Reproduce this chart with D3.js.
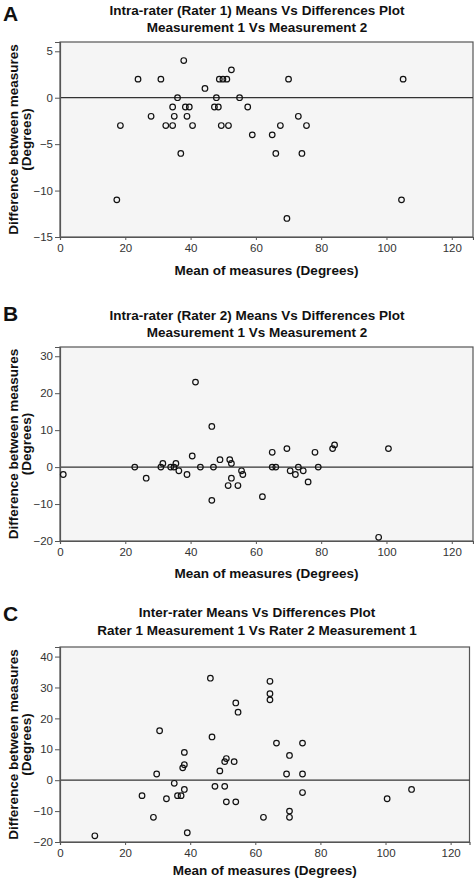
<!DOCTYPE html>
<html>
<head>
<meta charset="utf-8">
<script src="https://cdn.jsdelivr.net/npm/d3@7"></script>
<style>
  body { margin: 0; background: #fff; }
  svg { display: block; }
  text { font-family: "Liberation Sans", Arial, sans-serif; }
</style>
</head>
<body>
<svg id="chart" width="474" height="881"></svg>
<script>
// panel A: intra-rater, rater 1
var aMean = [37.9, 52.5, 23.9, 30.9, 48.8, 49.9, 51.1, 70, 105.1, 44.4, 36, 47.9, 55,
             34.5, 38.4, 39.6, 47.3, 48.5, 57.5, 27.9, 35, 38.9, 73, 18.5, 32.4, 34.5,
             40.6, 49.4, 51.6, 67.5, 75.5, 58.9, 65, 37, 66.1, 74.1, 17.4, 104.6, 69.5]
var aDiff = [4, 3, 2, 2, 2, 2, 2, 2, 2, 1, 0, 0, 0,
             -1, -1, -1, -1, -1, -1, -2, -2, -2, -2, -3, -3, -3,
             -3, -3, -3, -3, -3, -4, -4, -6, -6, -6, -11, -11, -13]

// panel B: intra-rater, rater 2
var bMean = [1, 22.9, 26.4, 30.9, 31.5, 33.9, 34.9, 35.5, 36.4, 38.9, 40.5, 41.5, 43,
             46.5, 47, 46.5, 49, 52, 52.5, 52.5, 51.5, 54.5, 55.6, 56, 62, 65, 65,
             66.1, 69.5, 70.5, 72.1, 73, 74.5, 76, 78.1, 79.1, 83.5, 84.1, 100.6, 97.6]
var bDiff = [-2, 0, -3, 0, 1, 0, 0, 1, -1, -2, 3, 23, 0,
             11, 0, -9, 2, 2, 1, -3, -5, -5, -1, -2, -8, 4, 0,
             0, 5, -1, -2, 0, -1, -4, 4, 0, 5, 6, 5, -19]

// panel C: inter-rater
var cMean = [46.2, 64.5, 64.5, 64.5, 54, 54.7, 30.6, 46.7, 66.5, 74.5, 38.2, 70.5, 51.1,
             50.6, 53.5, 38.2, 37.7, 49.1, 29.7, 69.6, 74.5, 35.1, 47.6, 50.6, 38.2,
             74.5, 25.2, 36.1, 37.2, 32.7, 51.1, 54, 70.5, 28.7, 62.5, 70.5, 39.1,
             10.7, 100.5, 108]
var cDiff = [33, 32, 28, 26, 25, 22, 16, 14, 12, 12, 9, 8, 7,
             6, 6, 5, 4, 3, 2, 2, 2, -1, -2, -2, -3,
             -4, -5, -5, -5, -6, -7, -7, -10, -12, -12, -12, -17,
             -18, -6, -3]

var xTicks = [0, 20, 40, 60, 80, 100, 120]
var aTicks = [5, 0, -5, -10, -15]
var bTicks = [30, 20, 10, 0, -10, -20]
var cTicks = [40, 30, 20, 10, 0, -10, -20]

var panelLetters = ["A", "B", "C"]
var aTitle = ["Intra-rater (Rater 1) Means Vs Differences Plot", "Measurement 1 Vs Measurement 2"]
var bTitle = ["Intra-rater (Rater 2) Means Vs Differences Plot", "Measurement 1 Vs Measurement 2"]
var cTitle = ["Inter-rater Means Vs Differences Plot", "Rater 1 Measurement 1 Vs Rater 2 Measurement 1"]
var xLabel = "Mean of measures (Degrees)"
var yLabel = ["Difference between measures", "(Degrees)"]

var svg = d3.select("#chart")

//drawing style
var bg = "#f5f5f5"
var frameColor = "#555"
var tickColor = "#333"
var dotR = 2.8

function drawPanel(p) {
    var g = svg.append("g")

    var x = d3.scaleLinear().domain(p.xDomain).range([p.left, p.right])
    var y = d3.scaleLinear().domain(p.yDomain).range([p.bottom, p.top])

    //panel letter
    g.append("text")
     .attr("x", 3).attr("y", p.letterY)
     .attr("font-size", 21).attr("font-weight", "bold")
     .attr("fill", "#111")
     .text(p.letter)

    //title lines
    p.title.forEach((t, i) => {
        g.append("text")
         .attr("x", 257).attr("y", p.titleY[i])
         .attr("text-anchor", "middle")
         .attr("font-size", 13.5).attr("font-weight", "bold")
         .attr("fill", "#111")
         .text(t)
    })

    //plot background
    g.append("rect")
     .attr("x", p.left).attr("y", p.top)
     .attr("width", p.right - p.left).attr("height", p.bottom - p.top)
     .attr("fill", bg)
     .attr("stroke", frameColor).attr("stroke-width", 1.2)

    //zero line
    g.append("line")
     .attr("x1", p.left).attr("x2", p.right)
     .attr("y1", y(0)).attr("y2", y(0))
     .attr("stroke", "#333").attr("stroke-width", 1.2)

    //axes
    var xAxis = g.append("g")
     .attr("transform", "translate(0," + p.bottom + ")")
     .call(d3.axisBottom(x).tickValues(xTicks).tickSize(3).tickPadding(4))
    var yAxis = g.append("g")
     .attr("transform", "translate(" + p.left + ",0)")
     .call(d3.axisLeft(y).tickValues(p.yTicks).tickSize(5).tickPadding(2))

    ;[xAxis, yAxis].forEach(a => {
        a.select(".domain").attr("stroke", frameColor).attr("stroke-width", 1.2)
        a.selectAll(".tick line").attr("stroke", frameColor)
        a.selectAll(".tick text")
         .attr("font-size", 11.5)
         .attr("fill", tickColor)
         .style("font-family", "'Liberation Sans', Arial, sans-serif")
    })

    //points
    g.append("g")
     .selectAll("circle")
     .data(p.mean.map((m, i) => [m, p.diff[i]]))
     .enter()
     .append("circle")
     .attr("cx", d => x(d[0]))
     .attr("cy", d => y(d[1]))
     .attr("r", dotR)
     .attr("fill", "none")
     .attr("stroke", "#111")
     .attr("stroke-width", 1.2)

    //x label
    g.append("text")
     .attr("x", (p.left + p.right) / 2).attr("y", p.xLabelY)
     .attr("text-anchor", "middle")
     .attr("font-size", 13.5).attr("font-weight", "bold")
     .attr("fill", "#111")
     .text(xLabel)

    //y label, two rotated lines
    var midY = (p.top + p.bottom) / 2
    yLabel.forEach((t, i) => {
        var lx = i === 0 ? 18 : 31
        g.append("text")
         .attr("transform", "translate(" + lx + "," + midY + ") rotate(-90)")
         .attr("text-anchor", "middle")
         .attr("font-size", 13.5).attr("font-weight", "bold")
         .attr("fill", "#111")
         .text(t)
    })
}

drawPanel({
    letter: panelLetters[0], letterY: 21, title: aTitle, titleY: [15, 32],
    left: 60, right: 473, top: 42, bottom: 237, xLabelY: 275,
    xDomain: [0, 126.5], yDomain: [-15, 6], yTicks: aTicks,
    mean: aMean, diff: aDiff
})

drawPanel({
    letter: panelLetters[1], letterY: 321, title: bTitle, titleY: [320, 337],
    left: 60, right: 473, top: 347, bottom: 541, xLabelY: 578,
    xDomain: [0, 126.5], yDomain: [-20, 32.5], yTicks: bTicks,
    mean: bMean, diff: bDiff
})

drawPanel({
    letter: panelLetters[2], letterY: 621, title: cTitle, titleY: [617, 635],
    left: 60, right: 469.5, top: 647, bottom: 842, xLabelY: 875,
    xDomain: [0, 125.8], yDomain: [-20, 43.1], yTicks: cTicks,
    mean: cMean, diff: cDiff
})
</script>
</body>
</html>
